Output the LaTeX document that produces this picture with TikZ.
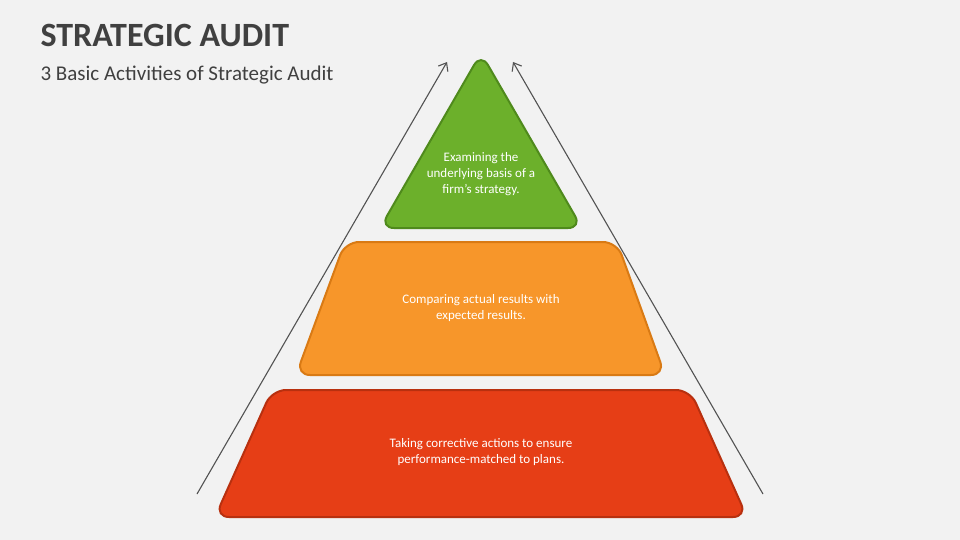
\documentclass[tikz,border=0pt]{standalone}
\usepackage{fontspec}
\setmainfont{Carlito}
\usetikzlibrary{arrows.meta}
\definecolor{bg}{HTML}{F2F2F2}
\definecolor{tgreen}{HTML}{6CB02B}\definecolor{bgreen}{HTML}{4F8A1C}
\definecolor{torange}{HTML}{F7962A}\definecolor{borange}{HTML}{D97A14}
\definecolor{tred}{HTML}{E63E16}\definecolor{bred}{HTML}{B8300F}
\definecolor{ttl}{HTML}{404040}
\tikzset{lvl/.style={line width=2pt,rounded corners=14pt},
 lbl/.style={text=white,align=center,font=\fontsize{13}{16}\selectfont},
 side/.style={draw=ttl!90,line width=1.1pt,-{Straight Barb[length=7pt,width=11pt]}}}
\begin{document}
\begin{tikzpicture}[x=1pt,y=-1pt]
\fill[bg] (0,0) rectangle (960,540);
\useasboundingbox (0,0) rectangle (960,540);
\node[anchor=west,text=ttl,font=\fontsize{34}{38}\selectfont\bfseries] (title) at (37,35) {STRATEGIC AUDIT};
\node[anchor=west,text=ttl,font=\fontsize{21}{24}\selectfont] (sub) at (37,75) {3 Basic Activities of Strategic Audit};
\coordinate (la) at (197,494); \coordinate (lb) at (447,62);
\coordinate (ra) at (763,494); \coordinate (rb) at (513,62);
\draw[side] (la) -- (lb);
\draw[side] (ra) -- (rb);
\draw[lvl,fill=tgreen,draw=bgreen] (481,53) -- (582,228) -- (380,228) -- cycle;
\draw[lvl,fill=torange,draw=borange] (345,242) -- (617,242) -- (665,375) -- (296,375) -- cycle;
\draw[lvl,fill=tred,draw=bred] (272,390) -- (690,390) -- (747,517) -- (215,517) -- cycle;
\node[lbl] (t1) at (481,174) {Examining the\\underlying basis of a\\firm's strategy.};
\node[lbl] (t2) at (481,308) {Comparing actual results with\\expected results.};
\node[lbl] (t3) at (481,452) {Taking corrective actions to ensure\\performance-matched to plans.};
\end{tikzpicture}
\end{document}
